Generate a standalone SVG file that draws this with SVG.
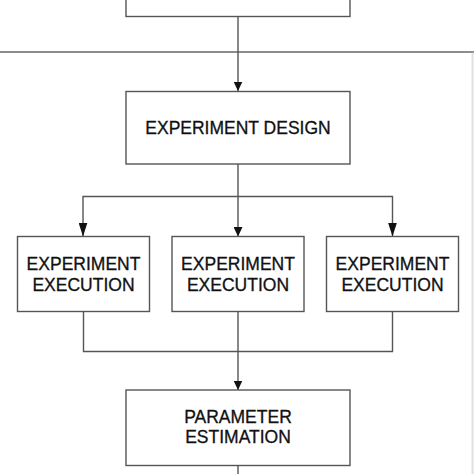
<svg xmlns="http://www.w3.org/2000/svg" width="474" height="474" viewBox="0 0 474 474">
<style>
.box{fill:#fff;stroke:#555;stroke-width:1.4}
.ln{fill:none;stroke:#555;stroke-width:1.4}
.t{font-family:"Liberation Sans",Arial,sans-serif;font-size:17.5px;fill:#111;stroke:#111;stroke-width:0.3;text-anchor:middle}
</style>
<defs>
<marker id="a" viewBox="0 0 10 10" refX="10" refY="5" markerWidth="9.5" markerHeight="9" markerUnits="userSpaceOnUse" orient="auto" preserveAspectRatio="none"><path d="M0,0L10,5L0,10Z" fill="#111"/></marker>
<marker id="aL" viewBox="0 0 10 10" refX="10" refY="5" markerWidth="14" markerHeight="9" markerUnits="userSpaceOnUse" orient="auto" preserveAspectRatio="none"><path d="M0,0L10,5L0,10Z" fill="#111"/></marker>
</defs>
<rect width="474" height="474" fill="#fff"/>
<line x1="0" y1="52" x2="474" y2="52" stroke="#666" stroke-width="1.4"/>
<line x1="472.5" y1="52.7" x2="472.5" y2="474" stroke="#e0e0e0" stroke-width="2"/>
<g id="connectors">
<path class="ln" d="M238,16.5V91" marker-end="url(#a)"/>
<path class="ln" d="M238,164V236.5" marker-end="url(#a)"/>
<path class="ln" d="M238,196.5H83V236.5" marker-end="url(#aL)"/>
<path class="ln" d="M238,196.5H392.5V236.5" marker-end="url(#aL)"/>
<path class="ln" d="M83.5,311.5V351.5H392.5V311.5"/>
<path class="ln" d="M238,311.5V390" marker-end="url(#a)"/>
<path class="ln" d="M238,465.5V474"/>
</g>
<g id="top"><rect class="box" x="126" y="-10" width="224" height="26.5"/></g>
<g id="design"><rect class="box" x="126" y="91.5" width="224" height="72.5"/><text class="t" x="238" y="133.5">EXPERIMENT DESIGN</text></g>
<g id="exec1"><rect class="box" x="17.5" y="236.5" width="132" height="75"/><text class="t" x="83.5" y="269.5">EXPERIMENT</text><text class="t" x="83.5" y="290.5">EXECUTION</text></g>
<g id="exec2"><rect class="box" x="172" y="236.5" width="132" height="75"/><text class="t" x="238" y="269.5">EXPERIMENT</text><text class="t" x="238" y="290.5">EXECUTION</text></g>
<g id="exec3"><rect class="box" x="326.5" y="236.5" width="132" height="75"/><text class="t" x="392.5" y="269.5">EXPERIMENT</text><text class="t" x="392.5" y="290.5">EXECUTION</text></g>
<g id="param"><rect class="box" x="126" y="390" width="224" height="75.5"/><text class="t" x="238" y="422.5">PARAMETER</text><text class="t" x="238" y="442.5">ESTIMATION</text></g>
</svg>
